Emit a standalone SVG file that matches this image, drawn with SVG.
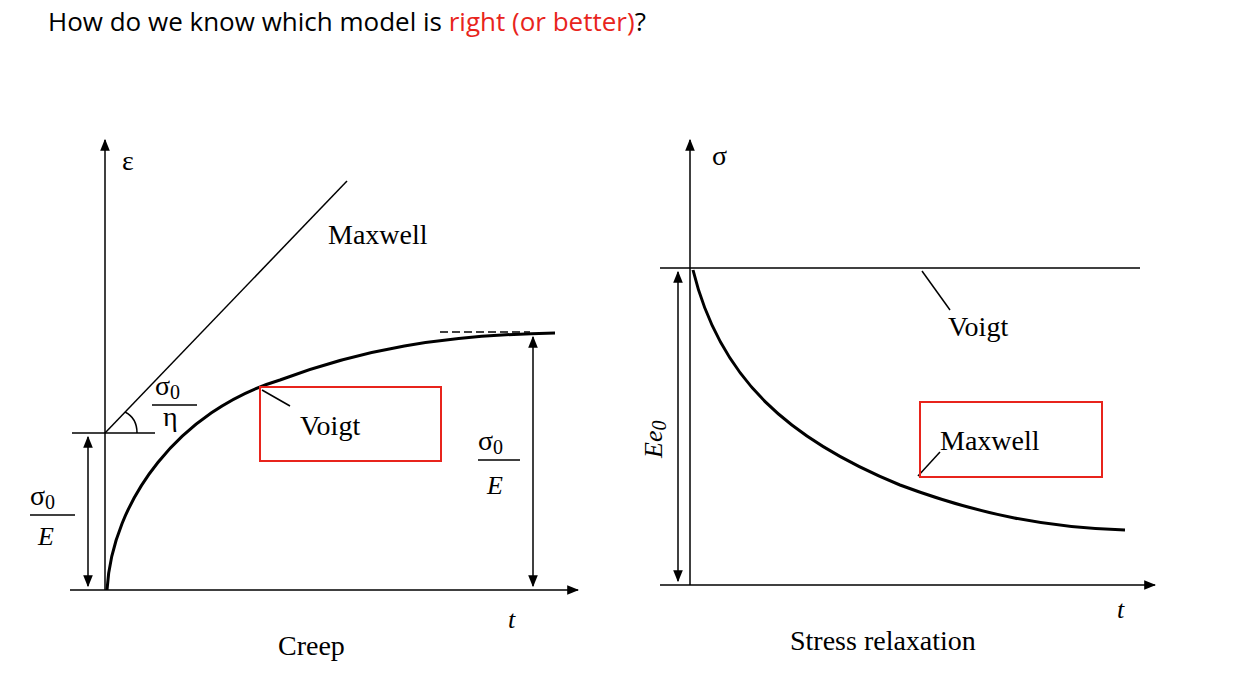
<svg xmlns="http://www.w3.org/2000/svg" width="1234" height="694" viewBox="0 0 1234 694">
<style>
.l{stroke:#000;stroke-width:1.5;fill:none}
.c{stroke:#000;stroke-width:3;fill:none}
.s{font-family:"Liberation Serif",serif;font-size:28px;fill:#000}
.i{font-family:"Liberation Serif",serif;font-size:26px;font-style:italic;fill:#000}
.b{fill:none;stroke:#e8241c;stroke-width:2}
</style>
<defs><marker id="a" viewBox="0 0 10 10" refX="9" refY="5" markerWidth="8" markerHeight="10" orient="auto-start-reverse"><path d="M0,1 L10,5 L0,9 z" fill="#000"/></marker></defs>
<rect width="1234" height="694" fill="#fff"/>
<text x="48" y="31" font-family="Open Sans, sans-serif" font-size="26" fill="#000">How do we know which model is <tspan fill="#e8241c">right (or better)</tspan>?</text>
<g id="connectors">
<line class="l" x1="105" y1="590" x2="105" y2="140" marker-end="url(#a)"/>
<line class="l" x1="70" y1="590" x2="578" y2="590" marker-end="url(#a)"/>
<line class="l" x1="105" y1="433" x2="347" y2="181"/>
<line class="l" x1="72" y1="433" x2="155" y2="433"/>
<path class="l" d="M125,412 Q137,418 137,433"/>
<line class="l" x1="88" y1="437" x2="88" y2="586" marker-start="url(#a)" marker-end="url(#a)"/>
<path class="c" d="M107,590 C112,500 180,410 280,380 C360,350 440,335 555,333"/>
<line class="l" x1="440" y1="332" x2="530" y2="332" stroke-dasharray="8,4"/>
<line class="l" x1="533" y1="337" x2="533" y2="586" marker-start="url(#a)" marker-end="url(#a)"/>
<line class="l" x1="262" y1="390" x2="290" y2="406"/>
<line class="l" x1="690" y1="585" x2="690" y2="140" marker-end="url(#a)"/>
<line class="l" x1="660" y1="585" x2="1155" y2="585" marker-end="url(#a)"/>
<line class="l" x1="660" y1="268" x2="1140" y2="268"/>
<line class="l" x1="678" y1="272" x2="678" y2="581" marker-start="url(#a)" marker-end="url(#a)"/>
<path class="c" d="M693,270 C720,380 790,440 900,485 C980,515 1050,528 1125,530"/>
<line class="l" x1="922" y1="271" x2="950" y2="310"/>
<line class="l" x1="940" y1="452" x2="918" y2="476"/>
</g>
<g id="labels">
<text class="s" x="122" y="170">ε</text>
<text class="s" x="328" y="244">Maxwell</text>
<text class="s" x="155" y="395">σ<tspan font-size="20" dy="4">0</tspan></text>
<line class="l" x1="152" y1="405" x2="197" y2="405"/>
<text class="s" x="163" y="426">η</text>
<text class="s" x="300" y="435">Voigt</text>
<text class="s" x="30" y="505">σ<tspan font-size="20" dy="4">0</tspan></text>
<line class="l" x1="30" y1="515" x2="75" y2="515"/>
<text class="i" x="38" y="545">E</text>
<text class="s" x="478" y="450">σ<tspan font-size="20" dy="4">0</tspan></text>
<line class="l" x1="478" y1="460" x2="520" y2="460"/>
<text class="i" x="487" y="494">E</text>
<text class="i" x="508" y="628">t</text>
<text class="s" x="278" y="655">Creep</text>
<text class="s" x="712" y="165">σ</text>
<text class="s" x="948" y="336">Voigt</text>
<text class="s" x="940" y="450">Maxwell</text>
<text class="i" transform="translate(662,458) rotate(-90)">Ee<tspan font-size="20" dy="4">0</tspan></text>
<text class="i" x="1117" y="618">t</text>
<text class="s" x="790" y="650">Stress relaxation</text>
</g>
<rect class="b" x="260" y="387" width="181" height="74"/>
<rect class="b" x="920" y="402" width="182" height="75"/>
</svg>
